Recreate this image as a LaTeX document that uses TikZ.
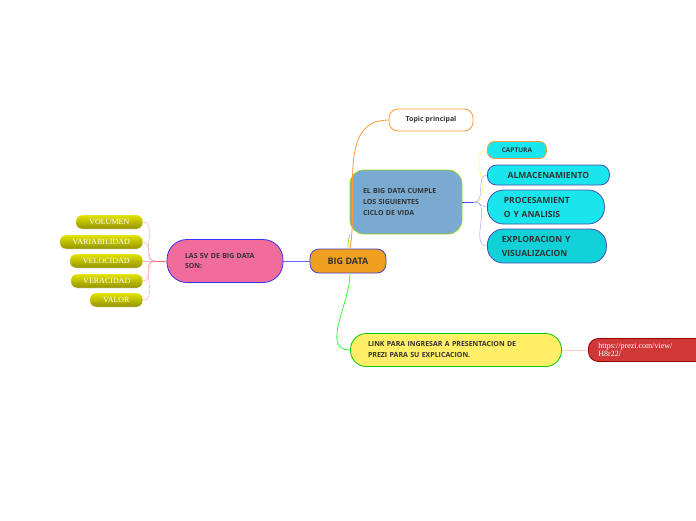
\documentclass[tikz,border=0pt]{standalone}
\usepackage{fontspec}
\setmainfont{Open Sans}
\newfontfamily\leaffont{Liberation Serif}
\tikzset{
	x=1pt,y=-1pt,
	topic/.style={rectangle,rounded corners=9pt,draw,line width=0.8pt,font=\bfseries\fontsize{8}{10}\selectfont,text=black!80,align=left,inner sep=0pt},
	leaf/.style={rectangle,rounded corners=6pt,draw=white,top color=yellow!75!olive!90,bottom color=olive!85!yellow,text=white,font=\leaffont\fontsize{8}{9}\selectfont,inner sep=0pt,minimum height=14pt},
	branch/.style={line width=0.8pt}
}
\definecolor{bigorange}{HTML}{F0A020}
\definecolor{pinkbox}{HTML}{F06C9B}
\definecolor{bluebox}{HTML}{7BAAD0}
\definecolor{cyanbox}{HTML}{18E6EC}
\definecolor{cyandark}{HTML}{10D0D8}
\definecolor{yellowbox}{HTML}{FFEE66}
\definecolor{redbox}{HTML}{D03838}
\begin{document}
\begin{tikzpicture}
	\useasboundingbox (0,0) rectangle (696,520);
	\clip (0,0) rectangle (696,520);

	% main node and branches
	\node (big data) [topic,fill=bigorange,draw=blue!50!gray,minimum width=76pt,minimum height=24pt,align=center,font=\bfseries\fontsize{9}{11}\selectfont] at (348,261) {BIG DATA};
	\node (five v) [topic,fill=pinkbox,draw=blue!80,rounded corners=20pt,minimum width=116pt,minimum height=43pt,text width=80pt,font=\bfseries\fontsize{7}{10}\selectfont] at (225,261) {LAS 5V DE BIG DATA SON:};
	\node (cycle) [topic,fill=bluebox,draw=yellow!60!green,rounded corners=14pt,minimum width=112pt,minimum height=64pt,text width=86pt,font=\bfseries\fontsize{7}{11}\selectfont] at (406,202) {EL BIG DATA CUMPLE\\LOS SIGUIENTES\\CICLO DE VIDA};
	\node (topic principal) [topic,fill=white,draw=orange!80,minimum width=84pt,minimum height=22pt,align=center,font=\bfseries\fontsize{7}{8}\selectfont] at (431,120) {Topic principal};
	\node (link) [topic,fill=yellowbox,draw=green!80!black,rounded corners=16pt,minimum width=211pt,minimum height=33pt,text width=176pt,font=\bfseries\fontsize{7}{11}\selectfont] at (456,350) {LINK PARA INGRESAR A PRESENTACION DE\\PREZI PARA SU EXPLICACION.};
	\node (url) [topic,fill=redbox,draw=red!60!black,rounded corners=10pt,anchor=west,minimum width=130pt,minimum height=23pt,text width=110pt,text=white,font=\leaffont\fontsize{8}{8}\selectfont] at (588,350) {https://prezi.com/view/\\H8r22/};

	% life cycle
	\node (captura) [topic,fill=cyanbox,draw=orange!80,rounded corners=7pt,anchor=west,minimum width=59pt,minimum height=17pt,align=center,font=\bfseries\fontsize{6.5}{8}\selectfont] at (487,150) {CAPTURA};
	\node (almacenamiento) [topic,fill=cyanbox,draw=blue!40!gray,anchor=west,minimum width=122pt,minimum height=20pt,align=center,font=\bfseries\fontsize{8.5}{10}\selectfont] at (487,175) {ALMACENAMIENTO};
	\node (procesamiento) [topic,fill=cyanbox,draw=blue!40!gray,rounded corners=16pt,anchor=west,minimum width=117pt,minimum height=34pt,text width=84pt,font=\bfseries\fontsize{8.5}{14}\selectfont] at (487,207) {PROCESAMIENT\\O Y ANALISIS};
	\node (exploracion) [topic,fill=cyandark,draw=blue!40!gray,rounded corners=16pt,anchor=west,minimum width=119pt,minimum height=34pt,text width=90pt,font=\bfseries\fontsize{8.5}{14}\selectfont] at (487,246) {EXPLORACION Y\\VISUALIZACION};

	% five v
	\node (volumen) [leaf,anchor=east,minimum width=67pt] at (143,222) {VOLUMEN};
	\node (variabilidad) [leaf,anchor=east,minimum width=83pt] at (143,242) {VARIABILIDAD};
	\node (velocidad) [leaf,anchor=east,minimum width=73pt] at (143,261) {VELOCIDAD};
	\node (veracidad) [leaf,anchor=east,minimum width=72pt] at (143,281) {VERACIDAD};
	\node (valor) [leaf,anchor=east,minimum width=53pt] at (143,300) {VALOR};

	\draw[branch,blue!60] (big data.west) -- (five v.east);
	\draw[branch,yellow!70!green] (big data.north) ++(0,0) to[out=90,in=260] (cycle.south west);
	\draw[branch,orange!80] (big data.north) ++(2,0) to[out=80,in=180] (topic principal.west);
	\draw[branch,green!80] (big data.south) ++(2,0) to[out=270,in=180] (link.west);
	\draw[branch,red!20] (link.east) -- (url.west);

	\draw[branch,blue!70] (cycle.east) -- ++(12,0) coordinate (fork);
	\draw[thin,yellow!70] (fork) to[out=0,in=180] (captura.west);
	\draw[thin,blue!40] (fork) to[out=0,in=180] (almacenamiento.west);
	\draw[thin,blue!40] (fork) to[out=0,in=180] (procesamiento.west);
	\draw[thin,blue!40] (fork) to[out=0,in=180] (exploracion.west);

	\draw[branch,red!60] (five v.west) -- ++(-12,0) coordinate (fan);
	\foreach \leafname in {volumen,variabilidad,velocidad,veracidad,valor}
		\draw[thin,red!40] (fan) to[out=180,in=0] (\leafname.east);
\end{tikzpicture}
\end{document}
